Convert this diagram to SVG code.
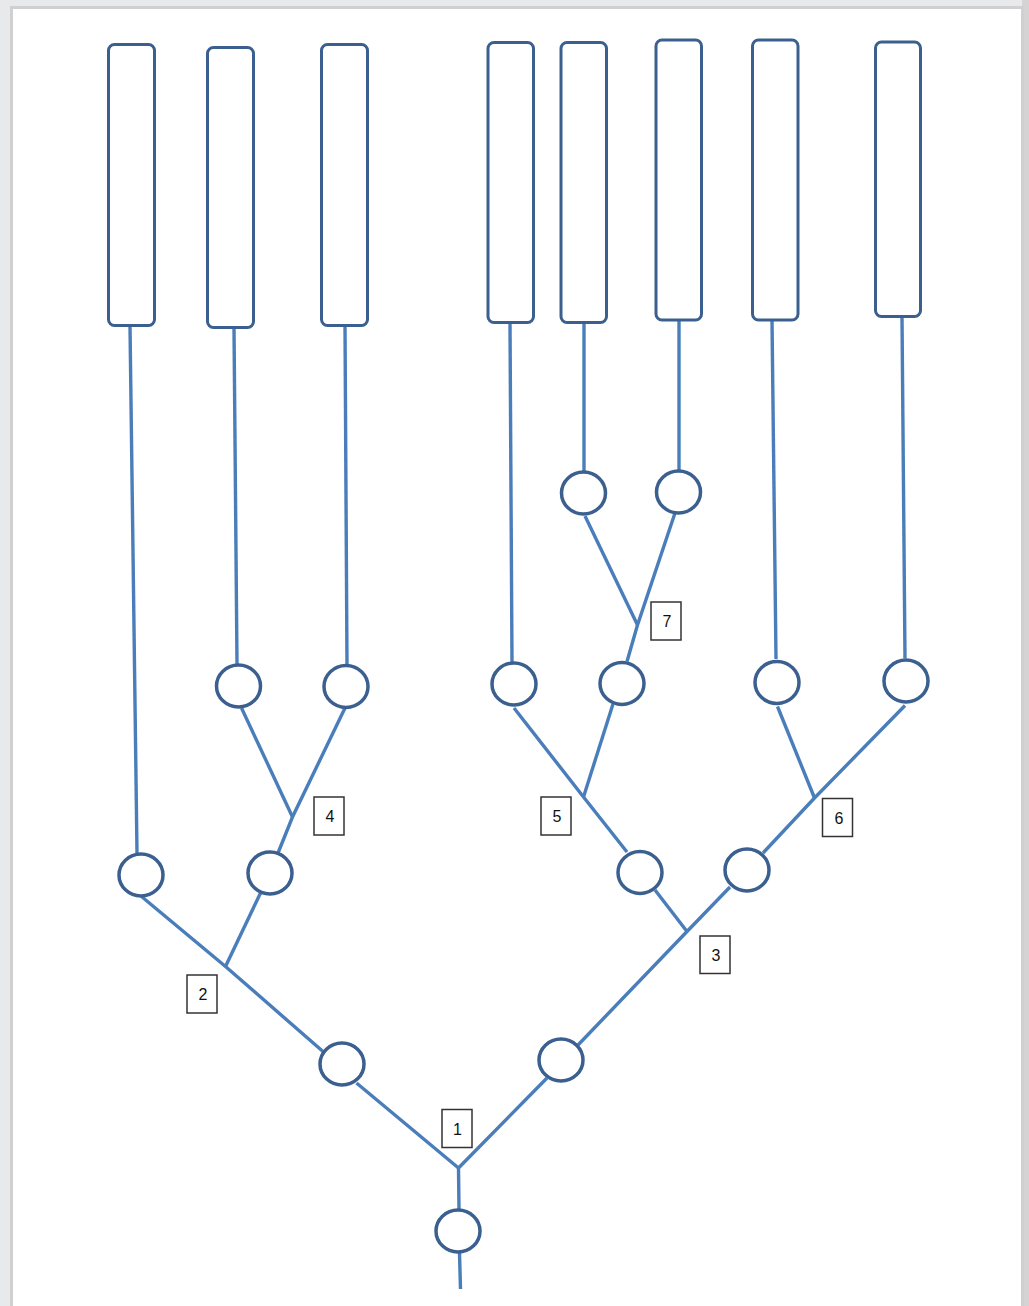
<svg xmlns="http://www.w3.org/2000/svg" width="1029" height="1306" viewBox="0 0 1029 1306">
<style>
.bar{fill:#fff;stroke:#3b6090;stroke-width:3}
.nd{fill:#fff;stroke:#3b6090;stroke-width:3.5}
.ln{fill:none;stroke:#4a7ebb;stroke-width:3.4;stroke-linejoin:miter}
.lb rect{fill:#fff;stroke:#333;stroke-width:1.5}
.lb text{font-family:"Liberation Sans","Open Sans",sans-serif;font-size:16px;fill:#111;text-anchor:middle}
</style>
<rect x="0" y="0" width="1029" height="1306" fill="#e8e9eb"/>
<rect x="1022" y="0" width="7" height="1306" fill="#d6d3d5"/>
<rect x="11.5" y="7.5" width="1011" height="1310" fill="#fff" stroke="#d0d0d0" stroke-width="3"/>
<g id="connectors">
<polyline class="ln" points="130,326 137,853"/>
<polyline class="ln" points="234,328 237,664"/>
<polyline class="ln" points="345,326 347,665"/>
<polyline class="ln" points="510,323 512,662"/>
<polyline class="ln" points="584,323 584,471.5"/>
<polyline class="ln" points="679,320 679,470.5"/>
<polyline class="ln" points="772,320 776,659"/>
<polyline class="ln" points="902,317 905,658.5"/>
<polyline class="ln" points="585,516 637.5,625"/>
<polyline class="ln" points="675,513 637.5,625 627,661.5"/>
<polyline class="ln" points="514,708 583.5,797 627,852"/>
<polyline class="ln" points="613,704 583.5,797"/>
<polyline class="ln" points="777.5,706.5 814.5,798"/>
<polyline class="ln" points="905,705.5 814.5,798 763,853"/>
<polyline class="ln" points="655,890 687,931.5"/>
<polyline class="ln" points="730,887 687,931.5 578,1045"/>
<polyline class="ln" points="241.5,708 292.5,817"/>
<polyline class="ln" points="345,708 292.5,817 278,853"/>
<polyline class="ln" points="141.5,896.5 225.5,966.5 323,1051.5"/>
<polyline class="ln" points="260.5,893 225.5,966.5"/>
<polyline class="ln" points="356.5,1083 458.5,1168"/>
<polyline class="ln" points="547,1078 458.5,1168 459,1209"/>
<polyline class="ln" points="459.5,1253 460.5,1289"/>
</g>
<g id="bar1"><rect class="bar" x="108.5" y="44.5" width="46" height="281" rx="6"/></g>
<g id="bar2"><rect class="bar" x="207.5" y="47.5" width="46" height="280" rx="6"/></g>
<g id="bar3"><rect class="bar" x="321.5" y="44.5" width="46" height="281" rx="6"/></g>
<g id="bar4"><rect class="bar" x="488" y="42.5" width="45.5" height="280" rx="6"/></g>
<g id="bar5"><rect class="bar" x="561" y="42.5" width="45.5" height="280" rx="6"/></g>
<g id="bar6"><rect class="bar" x="656" y="40" width="45.5" height="280" rx="6"/></g>
<g id="bar7"><rect class="bar" x="752.5" y="40" width="45.5" height="280" rx="6"/></g>
<g id="bar8"><rect class="bar" x="875.5" y="42" width="45" height="274.5" rx="6"/></g>
<g id="node-root"><ellipse class="nd" cx="458" cy="1231" rx="22" ry="21"/></g>
<g id="node-L1"><ellipse class="nd" cx="342" cy="1064" rx="22" ry="21"/></g>
<g id="node-R1"><ellipse class="nd" cx="561" cy="1060" rx="22" ry="21"/></g>
<g id="node-A"><ellipse class="nd" cx="141" cy="875" rx="22" ry="21"/></g>
<g id="node-B"><ellipse class="nd" cx="270" cy="873" rx="22" ry="21"/></g>
<g id="node-E"><ellipse class="nd" cx="640" cy="872.5" rx="22" ry="21"/></g>
<g id="node-D"><ellipse class="nd" cx="747" cy="870" rx="22" ry="21"/></g>
<g id="node-b2"><ellipse class="nd" cx="238.5" cy="686" rx="22" ry="21"/></g>
<g id="node-b3"><ellipse class="nd" cx="346" cy="686.5" rx="22" ry="21"/></g>
<g id="node-b4"><ellipse class="nd" cx="514" cy="684" rx="22" ry="21"/></g>
<g id="node-C"><ellipse class="nd" cx="622" cy="683.5" rx="22" ry="21"/></g>
<g id="node-b7"><ellipse class="nd" cx="777" cy="682.5" rx="22" ry="21"/></g>
<g id="node-b8"><ellipse class="nd" cx="906" cy="681" rx="22" ry="21"/></g>
<g id="node-b5"><ellipse class="nd" cx="583.5" cy="493" rx="22" ry="21"/></g>
<g id="node-b6"><ellipse class="nd" cx="678.5" cy="492" rx="22" ry="21"/></g>
<g id="label1" class="lb"><rect x="442" y="1109.5" width="30" height="38"/><text x="457.5" y="1134.5">1</text></g>
<g id="label2" class="lb"><rect x="187" y="975" width="30" height="38"/><text x="203" y="1000">2</text></g>
<g id="label3" class="lb"><rect x="700" y="936" width="30" height="37.5"/><text x="716" y="960.5">3</text></g>
<g id="label4" class="lb"><rect x="314" y="797" width="30" height="38"/><text x="330" y="822">4</text></g>
<g id="label5" class="lb"><rect x="541" y="797" width="30" height="38"/><text x="557" y="822">5</text></g>
<g id="label6" class="lb"><rect x="822.5" y="798.5" width="30" height="38"/><text x="839" y="823.5">6</text></g>
<g id="label7" class="lb"><rect x="651" y="602" width="30" height="38"/><text x="667" y="627">7</text></g>
</svg>
